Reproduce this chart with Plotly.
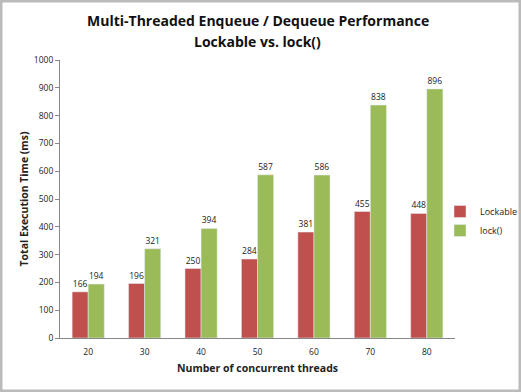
import plotly.graph_objects as go

threads = ["20", "30", "40", "50", "60", "70", "80"]
lockable = [166, 196, 250, 284, 381, 455, 448]
lock_fn = [194, 321, 394, 587, 586, 838, 896]

font = "Open Sans, Liberation Sans, sans-serif"
W, H = 521, 392
L, R, T, B = 60, 66, 60, 54
PW, PH = W - L - R, H - T - B

fig = go.Figure()
fig.add_bar(x=threads, y=lockable, name="Lockable", marker_color="#C0504D",
            text=lockable, textposition="outside", textfont=dict(size=8.5, color="#222"),
            cliponaxis=False)
fig.add_bar(x=threads, y=lock_fn, name="lock()", marker_color="#9BBB59",
            text=lock_fn, textposition="outside", textfont=dict(size=8.5, color="#222"),
            cliponaxis=False)

fig.update_layout(
    width=W, height=H,
    margin=dict(l=L, r=R, t=T, b=B, autoexpand=False),
    paper_bgcolor="white", plot_bgcolor="white",
    font=dict(family=font, size=8.5, color="#222"),
    barmode="group", bargap=0.43, bargroupgap=0,
    legend=dict(xref="container", yref="container", x=440 / W, xanchor="left",
                y=1 - 197 / H, yanchor="top", bgcolor="rgba(0,0,0,0)",
                font=dict(size=9), tracegroupgap=0, itemwidth=30),
    xaxis=dict(title=dict(text="<b>Number of concurrent threads</b>", font=dict(size=10.5), standoff=8),
               showline=True, linecolor="#888", ticks="outside", ticklen=6,
               tickcolor="rgba(0,0,0,0)", showgrid=False),
    yaxis=dict(title=dict(text="<b>Total Execution Time (ms)</b>", font=dict(size=10.5), standoff=3),
               range=[0, 1000], dtick=100, showline=True, linecolor="#888",
               ticks="outside", ticklen=4, tickcolor="#888", showgrid=False, zeroline=False),
)
fig.add_annotation(text="<b>Multi-Threaded Enqueue / Dequeue Performance</b>",
                   xref="paper", yref="paper", x=0.5, y=1 + (T - 20) / PH,
                   xanchor="center", yanchor="middle", showarrow=False,
                   font=dict(size=14, color="#111", family=font))
fig.add_annotation(text="<b>Lockable vs. lock()</b>",
                   xref="paper", yref="paper", x=0.5, y=1 + (T - 42) / PH,
                   xanchor="center", yanchor="middle", showarrow=False,
                   font=dict(size=14, color="#111", family=font))
fig.add_shape(type="rect", xref="paper", yref="paper",
              x0=-(L - 1) / PW, x1=1 + (R - 1) / PW, y0=-(B - 1) / PH, y1=1 + (T - 1) / PH,
              line=dict(color="#BBBBBB", width=3), layer="above")
fig.write_html("out.html", config={"displayModeBar": False},
               post_script="document.body.style.margin='0';document.body.style.overflow='hidden';")
